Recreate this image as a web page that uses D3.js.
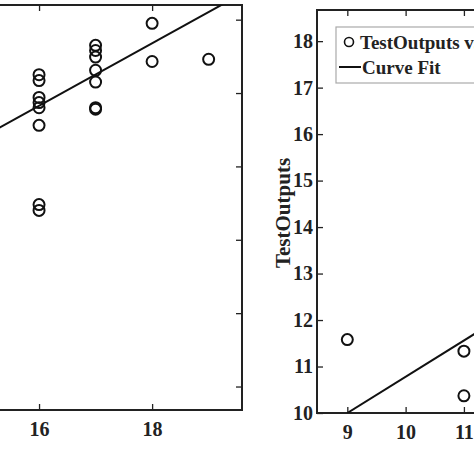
<!DOCTYPE html>
<html><head><meta charset="utf-8">
<script src="https://cdn.jsdelivr.net/npm/d3@7"></script>
<style>body{margin:0;background:#fff}text{font-family:"Liberation Serif",serif;font-weight:bold}</style>
</head><body><svg id="c" width="474" height="474"></svg>
<script>
// left panel data
const leftX = [16,16,16,16,16,16,16,16,17,17,17,17,17,17,17,18,18,19]
const leftY = [17.25,17.17,16.94,16.87,16.80,16.56,15.48,15.40,17.65,17.58,17.49,17.31,17.15,16.80,16.78,17.95,17.43,17.46]
const leftFit = [[15.0,16.40],[19.6,18.36]]
const leftXTicks = [16,18]
const leftYTicks = [13,14,15,16,17,18]
// right panel data
const rightX = [9,11,11]
const rightY = [11.58,11.33,10.37]
const rightFit = [[9,10],[13,13.12]]
const rightXTicks = [9,10,11,12,13]
const rightYTicks = [10,11,12,13,14,15,16,17,18]

const svg = d3.select("#c")
const fmt = d3.format("d")

function styleAxis(s) {
    s.select(".domain").remove()
    s.selectAll("line").attr("stroke", "#222").attr("stroke-width", 1.3)
    s.selectAll("text").attr("font-size", 20).attr("fill", "#222").attr("font-family", "Liberation Serif")
}

function panel(o) {
    var x = d3.scaleLinear().domain(o.xd).range([o.l, o.r])
    var y = d3.scaleLinear().domain(o.yd).range([o.b, o.t])
    var g = svg.append("g")
    var id = "clip" + o.name
    g.append("clipPath").attr("id", id).append("rect")
        .attr("x", o.l).attr("y", o.t).attr("width", o.r - o.l).attr("height", o.b - o.t)
    g.append("g").attr("transform", "translate(0," + o.b + ")")
        .call(d3.axisBottom(x).tickValues(o.xt).tickSize(-6).tickPadding(12).tickFormat(fmt)).call(styleAxis)
    g.append("g").attr("transform", "translate(0," + o.t + ")")
        .call(d3.axisTop(x).tickValues(o.xt).tickSize(-6).tickFormat("")).call(styleAxis)
    g.append("g").attr("transform", "translate(" + o.l + ",0)")
        .call(d3.axisLeft(y).tickValues(o.yt).tickSize(-6).tickPadding(4).tickFormat(o.ylab ? fmt : "")).call(styleAxis)
    g.append("g").attr("transform", "translate(" + o.r + ",0)")
        .call(d3.axisRight(y).tickValues(o.yt).tickSize(-6).tickFormat("")).call(styleAxis)
    g.append("rect").attr("x", o.l).attr("y", o.t).attr("width", o.r - o.l).attr("height", o.b - o.t)
        .attr("fill", "none").attr("stroke", "#222").attr("stroke-width", 2)
    var inner = g.append("g").attr("clip-path", "url(#" + id + ")")
    inner.append("path").datum(o.fit)
        .attr("d", d3.line().x(d => x(d[0])).y(d => y(d[1])))
        .attr("stroke", "#111").attr("stroke-width", 2).attr("fill", "none")
    inner.selectAll("circle").data(o.xs.map((v, i) => [v, o.ys[i]])).enter().append("circle")
        .attr("cx", d => x(d[0])).attr("cy", d => y(d[1])).attr("r", 5.5)
        .attr("fill", "none").attr("stroke", "#111").attr("stroke-width", 2)
    return g
}

panel({name: "L", l: -60, r: 242, t: 5, b: 410, xd: [15.31 - 60 / 56.5, 19.59], yd: [12.68, 18.2],
    xs: leftX, ys: leftY, fit: leftFit, xt: leftXTicks, yt: leftYTicks, ylab: false})

panel({name: "R", l: 317, r: 560, t: 10, b: 413, xd: [8.48, 8.48 + 243 / 58.3], yd: [10, 18.67],
    xs: rightX, ys: rightY, fit: rightFit, xt: rightXTicks, yt: rightYTicks, ylab: true})

svg.append("text").attr("transform", "translate(290,213) rotate(-90)")
    .attr("text-anchor", "middle").attr("font-size", 21).attr("fill", "#222").text("TestOutputs")

// legend
var lg = svg.append("g")
lg.append("rect").attr("x", 336).attr("y", 27).attr("width", 160).attr("height", 56)
    .attr("fill", "#fff").attr("stroke", "#aaa").attr("stroke-width", 1.2)
lg.append("circle").attr("cx", 349).attr("cy", 42).attr("r", 4.5).attr("fill", "none").attr("stroke", "#111").attr("stroke-width", 1.6)
lg.append("text").attr("x", 360).attr("y", 49).attr("font-size", 19).attr("fill", "#222").text("TestOutputs vs. TestInputs")
lg.append("line").attr("x1", 339).attr("x2", 361).attr("y1", 67).attr("y2", 67).attr("stroke", "#111").attr("stroke-width", 2)
lg.append("text").attr("x", 362).attr("y", 74).attr("font-size", 19).attr("fill", "#222").text("Curve Fit")
</script></body></html>
